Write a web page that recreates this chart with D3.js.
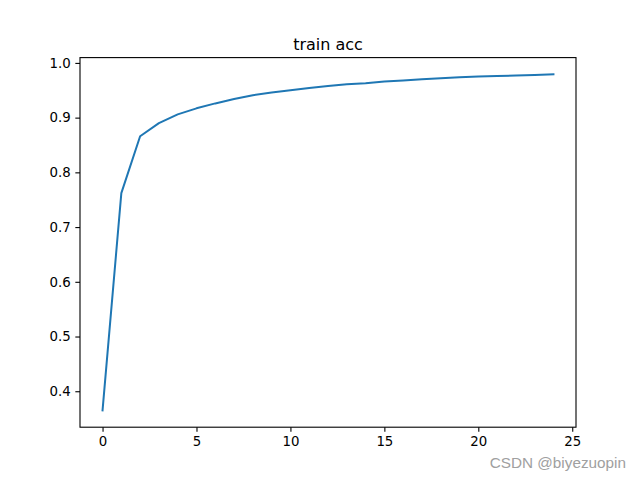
<!DOCTYPE html>
<html><head><meta charset="utf-8">
<script src="https://cdn.jsdelivr.net/npm/d3@7"></script>
<style>body{margin:0;background:#fff}svg{display:block}</style>
</head><body>
<svg id="c" width="640" height="480"></svg>
<script>
const epochs = d3.range(25);
const trainAcc = [0.365,0.762,0.866,0.890,0.906,0.917,0.926,0.934,0.941,0.946,0.950,0.954,0.958,0.961,0.963,0.966,0.968,0.970,0.972,0.974,0.975,0.976,0.977,0.978,0.979];
const xTicks = [0,5,10,15,20,25];
const yTicks = [0.4,0.5,0.6,0.7,0.8,0.9,1.0];
const title = "train acc";
const watermark = "CSDN @biyezuopin";

const svg = d3.select("#c");
const L=80,R=576,T=57.6,B=427.2;
const xr=[0,24], yr=d3.extent(trainAcc);
const xs=d3.scaleLinear().domain([xr[0]-0.05*(xr[1]-xr[0]), xr[1]+0.05*(xr[1]-xr[0])]).range([L,R]);
const yd=yr[1]-yr[0];
const ys=d3.scaleLinear().domain([yr[0]-0.05*yd, yr[1]+0.05*yd]).range([B,T]);
const font="DejaVu Sans";

svg.append("rect").attr("x",0).attr("y",0).attr("width",640).attr("height",480).attr("fill","#fff");

const line=d3.line().x((d,i)=>xs(epochs[i])).y(d=>ys(d));
svg.append("path").datum(trainAcc).attr("d",line).attr("fill","none").attr("stroke","#1f77b4").attr("stroke-width",2).attr("stroke-linejoin","round").attr("stroke-linecap","square");

const xa=svg.append("g").attr("transform",`translate(0,${B})`).call(d3.axisBottom(xs).tickValues(xTicks).tickFormat(d3.format("d")).tickSize(4.67).tickPadding(4.67));
const ya=svg.append("g").attr("transform",`translate(${L},0)`).call(d3.axisLeft(ys).tickValues(yTicks).tickFormat(d3.format(".1f")).tickSize(4.67).tickPadding(4.67));
[xa,ya].forEach(a=>{a.select(".domain").remove();a.selectAll("line").attr("stroke","#000").attr("stroke-width",1.1);a.selectAll("text").attr("font-family",font).attr("font-size",13.33).attr("fill","#000");});

svg.append("rect").attr("x",L).attr("y",T).attr("width",R-L).attr("height",B-T).attr("fill","none").attr("stroke","#000").attr("stroke-width",1.1);

svg.append("text").attr("x",(L+R)/2).attr("y",T-8).attr("text-anchor","middle").attr("font-family",font).attr("font-size",16).text(title);

svg.append("text").attr("x",626).attr("y",468).attr("text-anchor","end").attr("font-family","Liberation Sans, Arial, sans-serif").attr("font-size",15.3).attr("fill","#a0a0a0").text(watermark);
</script>
</body></html>
